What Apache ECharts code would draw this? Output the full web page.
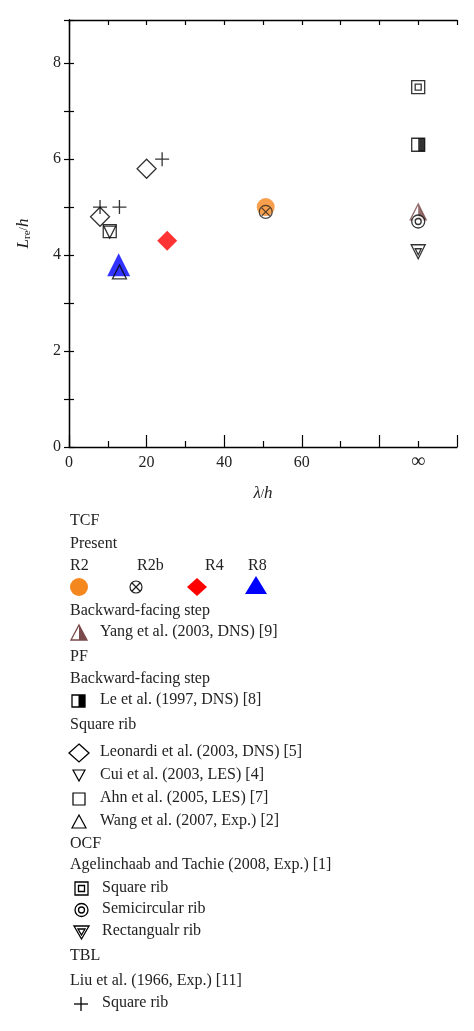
<!DOCTYPE html>
<html><head><meta charset="utf-8">
<script src="https://cdn.jsdelivr.net/npm/echarts@6/dist/echarts.min.js"></script>
<style>html,body{margin:0;background:#fff}#main{width:474px;height:1031px}</style>
</head><body><div id="main"></div>
<script>
var INF = 90
var xTicks = [0, 20, 40, 60]
var yTicks = [0, 2, 4, 6, 8]
var presentR2 = [[50.7, 5.0]]
var presentR2b = [[50.7, 4.9]]
var presentR4 = [[25.3, 4.3]]
var presentR8 = [[12.8, 3.8]]
var yang = [[INF, 4.9]]
var le = [[INF, 6.3]]
var leonardi = [[8, 4.8], [20, 5.8]]
var cui = [[10.5, 4.5]]
var ahn = [[10.5, 4.5]]
var wang = [[13, 3.65]]
var agSquare = [[INF, 7.5]]
var agSemi = [[INF, 4.7]]
var agRect = [[INF, 4.07]]
var liu = [[8, 5.0], [13, 5.0], [24, 6.0]]

var FONT = 'Liberation Serif'
var myChart = echarts.init(document.getElementById('main'))

function sc (name, data, symbol, size, style, extra) {
  var s = { name: name, type: 'scatter', data: data, symbol: symbol, symbolSize: size, itemStyle: style, z: 3 }
  for (var k in extra) s[k] = extra[k]
  return s
}
var open = { color: '#fff', borderColor: '#000', borderWidth: 1.3 }
var openT = { color: 'rgba(0,0,0,0)', borderColor: '#000', borderWidth: 1.3 }
var plusPath = 'path://M5,0L5,10M0,5L10,5'
var xPath = 'path://M0,0L10,10M10,0L0,10'
var halfTri = 'path://M0,0L0,10L5,10Z'

var series = [
  sc('R2', presentR2, 'circle', 18, { color: '#f5871f' }),
  sc('R2b', presentR2b, 'circle', 13, { color: 'rgba(0,0,0,0)', borderColor: '#222', borderWidth: 1.2 }),
  sc('R2bx', presentR2b, xPath, 8, { color: 'none', borderColor: '#222', borderWidth: 1.2 }),
  sc('R4', presentR4, 'diamond', 20, { color: '#f00' }),
  sc('R8', presentR8, 'triangle', 23, { color: '#00f' }),
  sc('Yang', yang, 'triangle', 16, { color: '#fff', borderColor: '#7a4a4a', borderWidth: 1.3 }),
  sc('Yang2', yang, halfTri, [8, 15], { color: '#7a4a4a' }, { symbolOffset: [4, 0] }),
  sc('Le', le, 'rect', 13, open),
  sc('Le2', le, 'rect', [6.5, 13], { color: '#000' }, { symbolOffset: [3.25, 0] }),
  sc('Leonardi', leonardi, 'diamond', 19, openT),
  sc('Ahn', ahn, 'rect', 13, openT),
  sc('Cui', cui, 'triangle', 12, openT, { symbolRotate: 180, symbolOffset: [0, 1] }),
  sc('Wang', wang, 'triangle', 14, openT),
  sc('AgSq', agSquare, 'rect', 13, open),
  sc('AgSq2', agSquare, 'rect', 6, open),
  sc('AgSemi', agSemi, 'circle', 13, open),
  sc('AgSemi2', agSemi, 'circle', 6, open),
  sc('AgRect', agRect, 'triangle', 14, open, { symbolRotate: 180 }),
  sc('AgRect2', agRect, 'triangle', 6, open, { symbolRotate: 180 }),
  sc('Liu', liu, plusPath, 14, { color: 'none', borderColor: '#000', borderWidth: 1.3 })
]

// legend drawn as graphics
var g = []
function txt (x, y, s) {
  g.push({ type: 'text', left: x, top: y - 9, style: { text: s, font: '16px "' + FONT + '"', fill: '#222' } })
}
txt(70, 522, 'TCF'); txt(70, 545, 'Present')
txt(70, 567, 'R2'); txt(137, 567, 'R2b'); txt(205, 567, 'R4'); txt(248, 567, 'R8')
g.push({ type: 'circle', shape: { cx: 79, cy: 587, r: 9 }, style: { fill: '#f5871f' } })
g.push({ type: 'circle', shape: { cx: 136, cy: 587, r: 6 }, style: { fill: 'none', stroke: '#222', lineWidth: 1.2 } })
g.push({ type: 'polyline', shape: { points: [[132, 583], [140, 591]] }, style: { stroke: '#222', lineWidth: 1.2 } })
g.push({ type: 'polyline', shape: { points: [[140, 583], [132, 591]] }, style: { stroke: '#222', lineWidth: 1.2 } })
g.push({ type: 'polygon', shape: { points: [[197, 578], [207, 587], [197, 596], [187, 587]] }, style: { fill: '#f00' } })
g.push({ type: 'polygon', shape: { points: [[256, 576], [267, 594], [245, 594]] }, style: { fill: '#00f' } })
txt(70, 612, 'Backward-facing step')
g.push({ type: 'polygon', shape: { points: [[79, 625], [87, 640], [71, 640]] }, style: { fill: '#fff', stroke: '#7a4a4a', lineWidth: 1.3 } })
g.push({ type: 'polygon', shape: { points: [[79, 625], [87, 640], [79, 640]] }, style: { fill: '#7a4a4a' } })
txt(100, 633, 'Yang et al. (2003, DNS) [9]')
txt(70, 658, 'PF'); txt(70, 680, 'Backward-facing step')
g.push({ type: 'rect', shape: { x: 72, y: 695, width: 13, height: 12 }, style: { fill: '#fff', stroke: '#000', lineWidth: 1.3 } })
g.push({ type: 'rect', shape: { x: 78.5, y: 695, width: 6.5, height: 12 }, style: { fill: '#000' } })
txt(100, 701, 'Le et al. (1997, DNS) [8]')
txt(70, 726, 'Square rib')
g.push({ type: 'polygon', shape: { points: [[79, 744], [89, 753], [79, 762], [69, 753]] }, style: { fill: 'none', stroke: '#000', lineWidth: 1.3 } })
txt(100, 753, 'Leonardi et al. (2003, DNS) [5]')
g.push({ type: 'polygon', shape: { points: [[73, 770], [85, 770], [79, 781]] }, style: { fill: 'none', stroke: '#000', lineWidth: 1.2 } })
txt(100, 776, 'Cui et al. (2003, LES) [4]')
g.push({ type: 'rect', shape: { x: 73, y: 793, width: 12, height: 12 }, style: { fill: 'none', stroke: '#000', lineWidth: 1.2 } })
txt(100, 799, 'Ahn et al. (2005, LES) [7]')
g.push({ type: 'polygon', shape: { points: [[79, 815], [86, 828], [72, 828]] }, style: { fill: 'none', stroke: '#000', lineWidth: 1.2 } })
txt(100, 822, 'Wang et al. (2007, Exp.) [2]')
txt(70, 845, 'OCF'); txt(70, 866, 'Agelinchaab and Tachie (2008, Exp.) [1]')
g.push({ type: 'rect', shape: { x: 75, y: 882, width: 13, height: 13 }, style: { fill: 'none', stroke: '#000', lineWidth: 1.3 } })
g.push({ type: 'rect', shape: { x: 78.5, y: 885.5, width: 6, height: 6 }, style: { fill: 'none', stroke: '#000', lineWidth: 1.3 } })
txt(102, 889, 'Square rib')
g.push({ type: 'circle', shape: { cx: 81.5, cy: 910, r: 6.5 }, style: { fill: 'none', stroke: '#000', lineWidth: 1.3 } })
g.push({ type: 'circle', shape: { cx: 81.5, cy: 910, r: 3 }, style: { fill: 'none', stroke: '#000', lineWidth: 1.3 } })
txt(102, 910, 'Semicircular rib')
g.push({ type: 'polygon', shape: { points: [[74, 926], [89, 926], [81.5, 939]] }, style: { fill: 'none', stroke: '#000', lineWidth: 1.3 } })
g.push({ type: 'polygon', shape: { points: [[78, 929], [85, 929], [81.5, 935]] }, style: { fill: 'none', stroke: '#000', lineWidth: 1.3 } })
txt(102, 932, 'Rectangualr rib')
txt(70, 957, 'TBL'); txt(70, 982, 'Liu et al. (1966, Exp.) [11]')
g.push({ type: 'polyline', shape: { points: [[81, 997], [81, 1011]] }, style: { stroke: '#000', lineWidth: 1.3 } })
g.push({ type: 'polyline', shape: { points: [[74, 1004], [88, 1004]] }, style: { stroke: '#000', lineWidth: 1.3 } })
txt(102, 1004, 'Square rib')

var axLine = { show: true, lineStyle: { color: '#000', width: 1.3 } }
var tick = function (len) { return { show: true, inside: true, length: len, lineStyle: { color: '#000', width: 1.2 } } }
var option = {
  animation: false,
  textStyle: { fontFamily: FONT },
  grid: { left: 69, right: 17, top: 20, bottom: 584 },
  xAxis: [
    { type: 'value', min: 0, max: 100, interval: 20, position: 'bottom', axisLine: axLine, axisTick: tick(12),
      minorTick: { show: true, splitNumber: 2, length: 6, lineStyle: { color: '#000', width: 1.2 } },
      splitLine: { show: false },
      axisLabel: { color: '#222', fontSize: 16, margin: 8,
        formatter: function (v) { return xTicks.indexOf(v) >= 0 ? String(v) : '' } },
      name: '{i|λ}/{i|h}', nameLocation: 'middle', nameGap: 38,
      nameTextStyle: { rich: { i: { fontStyle: 'italic', fontSize: 17, color: '#222', fontFamily: FONT } } } },
    { type: 'value', min: 0, max: 100, interval: 10, position: 'bottom', axisLine: { show: false }, axisTick: { show: false },
      splitLine: { show: false },
      axisLabel: { color: '#222', fontSize: 20, margin: 5, formatter: function (v) { return v === INF ? '∞' : '' } } },
    { type: 'value', min: 0, max: 100, interval: 10, position: 'top', axisLine: axLine, axisTick: tick(5),
      splitLine: { show: false }, axisLabel: { show: false } }
  ],
  yAxis: [
    { type: 'value', min: 0, max: 8.9, interval: 1, axisLine: axLine, axisTick: tick(5), splitLine: { show: false },
      axisLabel: { color: '#222', fontSize: 16, margin: 8,
        formatter: function (v) { return yTicks.indexOf(v) >= 0 ? String(v) : '' } },
      name: '{i|L}{s|re}/{i|h}', nameLocation: 'middle', nameGap: 36, nameRotate: 90,
      nameTextStyle: { rich: { i: { fontStyle: 'italic', fontSize: 17, color: '#222', fontFamily: FONT },
        s: { fontSize: 11, color: '#222', fontFamily: FONT, verticalAlign: 'bottom', padding: [8, 0, 0, 0] } } } },
    { type: 'value', min: 0, max: 8.9, interval: 1, position: 'right', axisLine: axLine, axisTick: tick(5),
      splitLine: { show: false }, axisLabel: { show: false } }
  ],
  series: series,
  graphic: g
}
myChart.setOption(option)
</script></body></html>
